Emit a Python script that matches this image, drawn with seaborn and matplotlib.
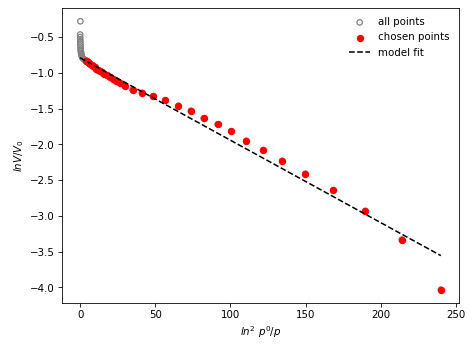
import numpy as np
import pandas as pd
import matplotlib
matplotlib.use('Agg')
import matplotlib.pyplot as plt
import seaborn as sns

# punti esclusi dalla scelta (solo "all points")
extra_x = [0.2, 0.05, 0.08, 0.1, 0.15, 0.2, 0.25, 0.3, 0.4, 0.5, 0.65, 0.8, 1.0, 1.3, 1.7, 2.2, 2.8, 3.4]
extra_y = [-0.28, -0.465, -0.50, -0.53, -0.56, -0.59, -0.62, -0.65, -0.68, -0.70, -0.72, -0.74, -0.76, -0.78,
           -0.795, -0.805, -0.815, -0.823]

# punti scelti per il fit
chosen_x = [4.0, 4.6, 5.3, 6.0, 6.8, 7.7, 8.6, 9.6, 10.7, 11.9, 13.2, 14.6, 16.1, 17.8, 19.6, 21.6, 23.8,
            26.3, 29.8, 34.9, 41.1, 48.4, 56.6, 65.4, 73.7, 82.2, 91.5, 100.6, 110.5, 121.8, 134.4, 149.8,
            168.4, 189.6, 214.0, 240.0]
chosen_y = [-0.83, -0.84, -0.855, -0.865, -0.88, -0.895, -0.91, -0.925, -0.94, -0.96, -0.975, -0.995,
            -1.015, -1.035, -1.06, -1.085, -1.11, -1.14, -1.185, -1.235, -1.28, -1.33, -1.385, -1.46,
            -1.53, -1.635, -1.72, -1.82, -1.95, -2.08, -2.23, -2.41, -2.64, -2.93, -3.33, -4.03]

# retta del modello
fit_x = [0.0, 240.0]
fit_y = [-0.79, -3.555]

df_all = pd.DataFrame({'x': extra_x + chosen_x, 'y': extra_y + chosen_y})
df_chosen = pd.DataFrame({'x': chosen_x, 'y': chosen_y})
df_fit = pd.DataFrame({'x': fit_x, 'y': fit_y})

fig, ax = plt.subplots(figsize=(6.4, 4.76), dpi=74)
fig.subplots_adjust(left=0.131, right=0.969, top=0.977, bottom=0.139)

sns.scatterplot(data=df_all, x='x', y='y', ax=ax, marker='o', s=28, fc='none', ec='gray',
                linewidth=1.2, label='all points')
sns.scatterplot(data=df_chosen, x='x', y='y', ax=ax, color='red', s=52, linewidth=0,
                label='chosen points')
sns.lineplot(data=df_fit, x='x', y='y', ax=ax, color='black', linestyle='--', label='model fit')

ax.set_xlabel('$ln^2\\ p^0/p$')
ax.set_ylabel('$lnV/V_0$')
ax.legend(loc='upper right', frameon=False)

fig.savefig('out.png', dpi=74)
